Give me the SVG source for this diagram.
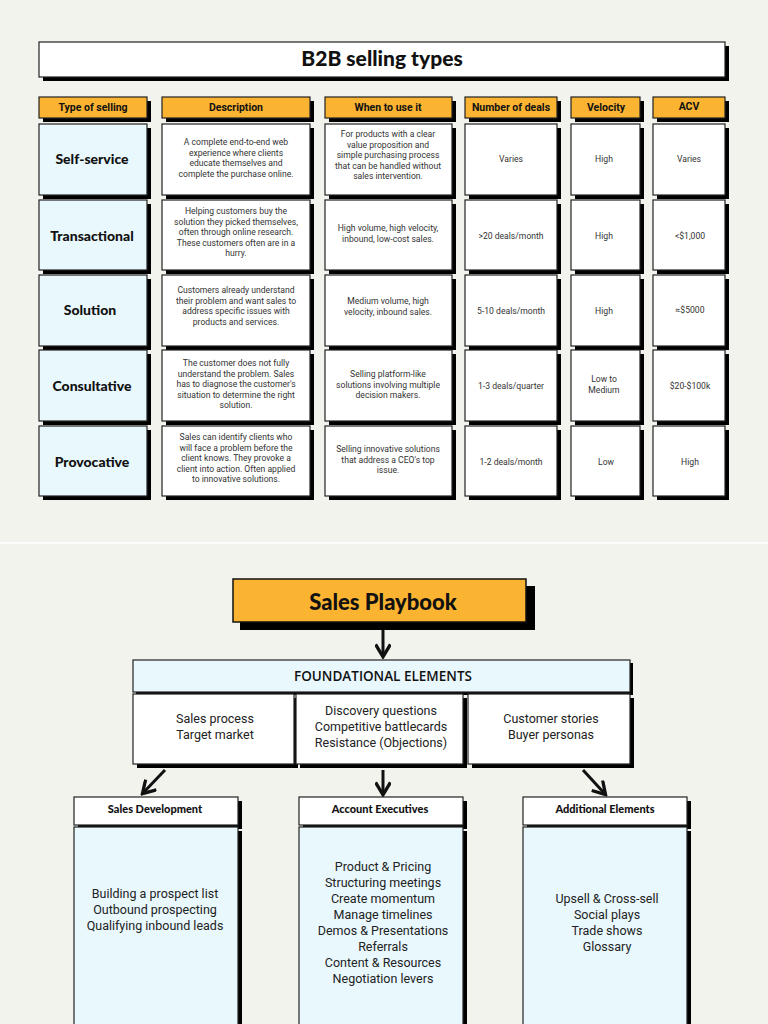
<svg xmlns="http://www.w3.org/2000/svg" width="768" height="1024" viewBox="0 0 768 1024">
<defs>
<style>
.sh{fill:#000}
.w{fill:#fff;stroke:#222;stroke-width:1.2}
.b{fill:#e9f8fd;stroke:#222;stroke-width:1.2}
.o{fill:#fbb431;stroke:#222;stroke-width:1.2}
.hd{font-family:Roboto,"Liberation Sans",sans-serif;font-weight:bold;font-size:10.5px;fill:#111;text-anchor:middle}
.ty{font-family:Lato,"Liberation Sans",sans-serif;font-weight:900;font-size:14px;fill:#111;text-anchor:middle}
.tx{font-family:Roboto,"Liberation Sans",sans-serif;font-size:8.6px;fill:#333;text-anchor:middle}
.bt{font-family:Roboto,"Liberation Sans",sans-serif;font-size:12.5px;fill:#222;text-anchor:middle}
.lh{font-family:Lato,"Liberation Sans",sans-serif;font-weight:900;font-size:11px;fill:#111;text-anchor:middle}
.ar{stroke:#111;stroke-width:3;fill:none}
</style>
<marker id="ah" viewBox="0 0 10 10" refX="8" refY="5" markerWidth="5.5" markerHeight="5.5" orient="auto"><path d="M1,0.5 L8.5,5 L1,9.5" fill="none" stroke="#111" stroke-width="2"/></marker>
</defs>
<rect width="768" height="1024" fill="#f3f3ee"/>
<line x1="0" y1="543" x2="768" y2="543" stroke="#fff" stroke-width="1.5"/>

<g id="title"><rect class="sh" x="43" y="46" width="686" height="35"/><rect class="w" x="39" y="42" width="686" height="35"/>
<text x="382" y="66" font-family="Lato,'Liberation Sans',sans-serif" font-weight="900" font-size="21" text-anchor="middle" fill="#111">B2B selling types</text></g>

<g id="headers">
<rect class="sh" x="43" y="101" width="108" height="21"/><rect class="o" x="39" y="97" width="108" height="21"/><text class="hd" x="93" y="111">Type of selling</text>
<rect class="sh" x="166" y="101" width="148" height="21"/><rect class="o" x="162" y="97" width="148" height="21"/><text class="hd" x="236" y="111">Description</text>
<rect class="sh" x="329" y="101" width="127" height="21"/><rect class="o" x="325" y="97" width="127" height="21"/><text class="hd" x="388" y="111">When to use it</text>
<rect class="sh" x="469" y="101" width="92" height="21"/><rect class="o" x="465" y="97" width="92" height="21"/><text class="hd" x="511" y="111">Number of deals</text>
<rect class="sh" x="575" y="101" width="69" height="21"/><rect class="o" x="571" y="97" width="69" height="21"/><text class="hd" x="606" y="111">Velocity</text>
<rect class="sh" x="657" y="101" width="72" height="21"/><rect class="o" x="653" y="97" width="72" height="21"/><text class="hd" x="689" y="110">ACV</text>
</g>

<g id="row1">
<rect class="sh" x="43" y="128" width="108" height="71"/><rect class="b" x="39" y="124" width="108" height="71"/><text class="ty" x="92" y="164">Self-service</text>
<rect class="sh" x="166" y="128" width="148" height="71"/><rect class="w" x="162" y="124" width="148" height="71"/>
<text class="tx" x="236" y="145">A complete end-to-end web<tspan x="236" dy="10.5">experience where clients</tspan><tspan x="236" dy="10.5">educate themselves and</tspan><tspan x="236" dy="10.5">complete the purchase online.</tspan></text>
<rect class="sh" x="329" y="128" width="127" height="71"/><rect class="w" x="325" y="124" width="127" height="71"/>
<text class="tx" x="388" y="137">For products with a clear<tspan x="388" dy="10.5">value proposition and</tspan><tspan x="388" dy="10.5">simple purchasing process</tspan><tspan x="388" dy="10.5">that can be handled without</tspan><tspan x="388" dy="10.5">sales intervention.</tspan></text>
<rect class="sh" x="469" y="128" width="92" height="71"/><rect class="w" x="465" y="124" width="92" height="71"/><text class="tx" x="511" y="162">Varies</text>
<rect class="sh" x="575" y="128" width="69" height="71"/><rect class="w" x="571" y="124" width="69" height="71"/><text class="tx" x="604" y="162">High</text>
<rect class="sh" x="657" y="128" width="72" height="71"/><rect class="w" x="653" y="124" width="72" height="71"/><text class="tx" x="689" y="162">Varies</text>
</g>

<g id="row2">
<rect class="sh" x="43" y="204" width="108" height="70"/><rect class="b" x="39" y="200" width="108" height="70"/><text class="ty" x="92" y="241">Transactional</text>
<rect class="sh" x="166" y="204" width="148" height="70"/><rect class="w" x="162" y="200" width="148" height="70"/>
<text class="tx" x="236" y="214">Helping customers buy the<tspan x="236" dy="10.5">solution they picked themselves,</tspan><tspan x="236" dy="10.5">often through online research.</tspan><tspan x="236" dy="10.5">These customers often are in a</tspan><tspan x="236" dy="10.5">hurry.</tspan></text>
<rect class="sh" x="329" y="204" width="127" height="70"/><rect class="w" x="325" y="200" width="127" height="70"/>
<text class="tx" x="388" y="231">High volume, high velocity,<tspan x="388" dy="10.5">inbound, low-cost sales.</tspan></text>
<rect class="sh" x="469" y="204" width="92" height="70"/><rect class="w" x="465" y="200" width="92" height="70"/><text class="tx" x="511" y="239">&gt;20 deals/month</text>
<rect class="sh" x="575" y="204" width="69" height="70"/><rect class="w" x="571" y="200" width="69" height="70"/><text class="tx" x="604" y="239">High</text>
<rect class="sh" x="657" y="204" width="72" height="70"/><rect class="w" x="653" y="200" width="72" height="70"/><text class="tx" x="690" y="239">&lt;$1,000</text>
</g>

<g id="row3">
<rect class="sh" x="43" y="279" width="108" height="71"/><rect class="b" x="39" y="275" width="108" height="71"/><text class="ty" x="90" y="315">Solution</text>
<rect class="sh" x="166" y="279" width="148" height="71"/><rect class="w" x="162" y="275" width="148" height="71"/>
<text class="tx" x="236" y="293">Customers already understand<tspan x="236" dy="10.5">their problem and want sales to</tspan><tspan x="236" dy="10.5">address specific issues with</tspan><tspan x="236" dy="10.5">products and services.</tspan></text>
<rect class="sh" x="329" y="279" width="127" height="71"/><rect class="w" x="325" y="275" width="127" height="71"/>
<text class="tx" x="388" y="304">Medium volume, high<tspan x="388" dy="10.5">velocity, inbound sales.</tspan></text>
<rect class="sh" x="469" y="279" width="92" height="71"/><rect class="w" x="465" y="275" width="92" height="71"/><text class="tx" x="511" y="314">5-10 deals/month</text>
<rect class="sh" x="575" y="279" width="69" height="71"/><rect class="w" x="571" y="275" width="69" height="71"/><text class="tx" x="604" y="314">High</text>
<rect class="sh" x="657" y="279" width="72" height="71"/><rect class="w" x="653" y="275" width="72" height="71"/><text class="tx" x="690" y="313">≈$5000</text>
</g>

<g id="row4">
<rect class="sh" x="43" y="354" width="108" height="71"/><rect class="b" x="39" y="350" width="108" height="71"/><text class="ty" x="92" y="391">Consultative</text>
<rect class="sh" x="166" y="354" width="148" height="71"/><rect class="w" x="162" y="350" width="148" height="71"/>
<text class="tx" x="236" y="366">The customer does not fully<tspan x="236" dy="10.5">understand the problem. Sales</tspan><tspan x="236" dy="10.5">has to diagnose the customer's</tspan><tspan x="236" dy="10.5">situation to determine the right</tspan><tspan x="236" dy="10.5">solution.</tspan></text>
<rect class="sh" x="329" y="354" width="127" height="71"/><rect class="w" x="325" y="350" width="127" height="71"/>
<text class="tx" x="388" y="377">Selling platform-like<tspan x="388" dy="10.5">solutions involving multiple</tspan><tspan x="388" dy="10.5">decision makers.</tspan></text>
<rect class="sh" x="469" y="354" width="92" height="71"/><rect class="w" x="465" y="350" width="92" height="71"/><text class="tx" x="511" y="389">1-3 deals/quarter</text>
<rect class="sh" x="575" y="354" width="69" height="71"/><rect class="w" x="571" y="350" width="69" height="71"/><text class="tx" x="604" y="382">Low to<tspan x="604" dy="10.5">Medium</tspan></text>
<rect class="sh" x="657" y="354" width="72" height="71"/><rect class="w" x="653" y="350" width="72" height="71"/><text class="tx" x="690" y="389">$20-$100k</text>
</g>

<g id="row5">
<rect class="sh" x="43" y="430" width="108" height="70"/><rect class="b" x="39" y="426" width="108" height="70"/><text class="ty" x="92" y="467">Provocative</text>
<rect class="sh" x="166" y="430" width="148" height="70"/><rect class="w" x="162" y="426" width="148" height="70"/>
<text class="tx" x="236" y="440">Sales can identify clients who<tspan x="236" dy="10.5">will face a problem before the</tspan><tspan x="236" dy="10.5">client  knows. They provoke a</tspan><tspan x="236" dy="10.5">client into action. Often applied</tspan><tspan x="236" dy="10.5">to innovative solutions.</tspan></text>
<rect class="sh" x="329" y="430" width="127" height="70"/><rect class="w" x="325" y="426" width="127" height="70"/>
<text class="tx" x="388" y="452">Selling innovative solutions<tspan x="388" dy="10.5">that address a CEO's top</tspan><tspan x="388" dy="10.5">issue.</tspan></text>
<rect class="sh" x="469" y="430" width="92" height="70"/><rect class="w" x="465" y="426" width="92" height="70"/><text class="tx" x="511" y="465">1-2 deals/month</text>
<rect class="sh" x="575" y="430" width="69" height="70"/><rect class="w" x="571" y="426" width="69" height="70"/><text class="tx" x="606" y="465">Low</text>
<rect class="sh" x="657" y="430" width="72" height="70"/><rect class="w" x="653" y="426" width="72" height="70"/><text class="tx" x="690" y="465">High</text>
</g>

<g id="connectors">
<line class="ar" x1="383" y1="628" x2="383" y2="656" marker-end="url(#ah)"/>
<line class="ar" x1="165" y1="770" x2="143" y2="793" marker-end="url(#ah)"/>
<line class="ar" x1="383" y1="770" x2="383" y2="794" marker-end="url(#ah)"/>
<line class="ar" x1="583" y1="770" x2="605" y2="794" marker-end="url(#ah)"/>
</g>

<g id="playbook"><rect class="sh" x="240" y="586" width="295" height="44"/><rect x="233" y="579" width="293" height="43" fill="#fbb431" stroke="#111" stroke-width="1.5"/>
<text x="383" y="610" font-family="Lato,'Liberation Sans',sans-serif" font-weight="900" font-size="22" text-anchor="middle" fill="#111">Sales Playbook</text></g>

<g id="foundational"><rect class="sh" x="136" y="663" width="497" height="32"/><rect class="b" x="133" y="660" width="497" height="32" stroke-width="2"/>
<text x="383" y="681" font-family="'Open Sans',sans-serif" font-weight="600" font-size="13.5" text-anchor="middle" fill="#111">FOUNDATIONAL ELEMENTS</text></g>

<g id="f1"><rect class="sh" x="137" y="698" width="161" height="70"/><rect class="w" x="133" y="694" width="161" height="70"/>
<text class="bt" x="215" y="723">Sales process<tspan x="215" dy="16">Target market</tspan></text></g>
<g id="f2"><rect class="sh" x="300" y="698" width="167" height="70"/><rect class="w" x="296" y="694" width="167" height="70"/>
<text class="bt" x="381" y="715">Discovery questions<tspan x="381" dy="16">Competitive battlecards</tspan><tspan x="381" dy="16">Resistance (Objections)</tspan></text></g>
<g id="f3"><rect class="sh" x="472" y="698" width="162" height="70"/><rect class="w" x="468" y="694" width="162" height="70"/>
<text class="bt" x="551" y="723">Customer stories<tspan x="551" dy="16">Buyer personas</tspan></text></g>

<g id="salesdev">
<rect class="sh" x="78" y="801" width="164" height="28"/><rect class="w" x="74" y="797" width="164" height="28"/><text class="lh" x="155" y="813">Sales Development</text>
<rect class="sh" x="78" y="831" width="164" height="200"/><rect class="b" x="74" y="827" width="164" height="200"/>
<text class="bt" x="155" y="898">Building a prospect list<tspan x="155" dy="16">Outbound prospecting</tspan><tspan x="155" dy="16">Qualifying inbound leads</tspan></text>
</g>
<g id="accountexec">
<rect class="sh" x="303" y="801" width="164" height="28"/><rect class="w" x="299" y="797" width="164" height="28"/><text class="lh" x="380" y="813">Account Executives</text>
<rect class="sh" x="303" y="831" width="164" height="200"/><rect class="b" x="299" y="827" width="164" height="200"/>
<text class="bt" x="383" y="871">Product &amp; Pricing<tspan x="383" dy="16">Structuring meetings</tspan><tspan x="383" dy="16">Create momentum</tspan><tspan x="383" dy="16">Manage timelines</tspan><tspan x="383" dy="16">Demos &amp; Presentations</tspan><tspan x="383" dy="16">Referrals</tspan><tspan x="383" dy="16">Content &amp; Resources</tspan><tspan x="383" dy="16">Negotiation levers</tspan></text>
</g>
<g id="additional">
<rect class="sh" x="527" y="801" width="164" height="28"/><rect class="w" x="523" y="797" width="164" height="28"/><text class="lh" x="605" y="813">Additional Elements</text>
<rect class="sh" x="527" y="831" width="164" height="200"/><rect class="b" x="523" y="827" width="164" height="200"/>
<text class="bt" x="607" y="903">Upsell &amp; Cross-sell<tspan x="607" dy="16">Social plays</tspan><tspan x="607" dy="16">Trade shows</tspan><tspan x="607" dy="16">Glossary</tspan></text>
</g>
</svg>
